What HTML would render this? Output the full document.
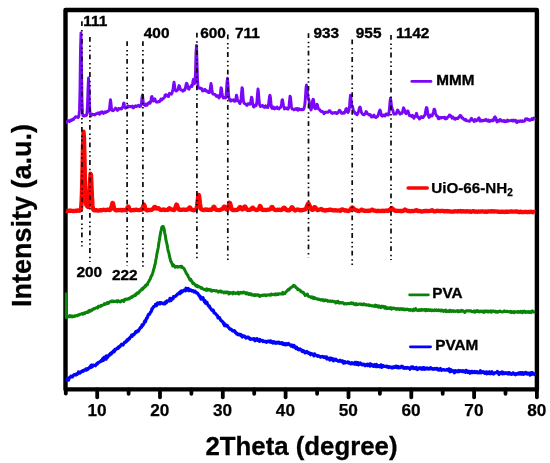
<!DOCTYPE html>
<html><head><meta charset="utf-8"><title>XRD</title>
<style>html,body{margin:0;padding:0;background:#fff;}svg{display:block;}</style></head>
<body>
<svg width="550" height="463" viewBox="0 0 550 463">
<rect width="550" height="463" fill="#ffffff"/>
<rect x="65.5" y="10.0" width="471.4" height="379.4" fill="none" stroke="#000" stroke-width="4.4" stroke-linejoin="round"/>
<line x1="65.8" y1="389.4" x2="65.8" y2="393.59999999999997" stroke="#000" stroke-width="3.8" stroke-linecap="round"/>
<line x1="97.2" y1="389.4" x2="97.2" y2="397.29999999999995" stroke="#000" stroke-width="3.8" stroke-linecap="round"/>
<line x1="128.6" y1="389.4" x2="128.6" y2="393.79999999999995" stroke="#000" stroke-width="3.8" stroke-linecap="round"/>
<line x1="160.0" y1="389.4" x2="160.0" y2="397.29999999999995" stroke="#000" stroke-width="3.8" stroke-linecap="round"/>
<line x1="191.4" y1="389.4" x2="191.4" y2="393.79999999999995" stroke="#000" stroke-width="3.8" stroke-linecap="round"/>
<line x1="222.8" y1="389.4" x2="222.8" y2="397.29999999999995" stroke="#000" stroke-width="3.8" stroke-linecap="round"/>
<line x1="254.2" y1="389.4" x2="254.2" y2="393.79999999999995" stroke="#000" stroke-width="3.8" stroke-linecap="round"/>
<line x1="285.6" y1="389.4" x2="285.6" y2="397.29999999999995" stroke="#000" stroke-width="3.8" stroke-linecap="round"/>
<line x1="317.1" y1="389.4" x2="317.1" y2="393.79999999999995" stroke="#000" stroke-width="3.8" stroke-linecap="round"/>
<line x1="348.5" y1="389.4" x2="348.5" y2="397.29999999999995" stroke="#000" stroke-width="3.8" stroke-linecap="round"/>
<line x1="379.9" y1="389.4" x2="379.9" y2="393.79999999999995" stroke="#000" stroke-width="3.8" stroke-linecap="round"/>
<line x1="411.3" y1="389.4" x2="411.3" y2="397.29999999999995" stroke="#000" stroke-width="3.8" stroke-linecap="round"/>
<line x1="442.7" y1="389.4" x2="442.7" y2="393.79999999999995" stroke="#000" stroke-width="3.8" stroke-linecap="round"/>
<line x1="474.1" y1="389.4" x2="474.1" y2="397.29999999999995" stroke="#000" stroke-width="3.8" stroke-linecap="round"/>
<line x1="505.5" y1="389.4" x2="505.5" y2="393.79999999999995" stroke="#000" stroke-width="3.8" stroke-linecap="round"/>
<line x1="536.9" y1="389.4" x2="536.9" y2="397.29999999999995" stroke="#000" stroke-width="3.8" stroke-linecap="round"/>
<path d="M66.0,379.5 66.5,379.8 67.0,378.9 67.5,379.1 68.0,378.5 68.5,380.2 69.0,378.8 69.5,377.5 70.0,377.2 70.5,377.2 71.0,376.2 71.5,376.5 72.0,376.2 72.5,376.9 73.0,375.8 73.5,375.3 74.0,374.7 74.5,374.5 75.0,374.9 75.5,374.5 76.0,375.1 76.5,373.8 77.0,374.5 77.5,373.8 78.0,373.4 78.5,371.9 79.0,372.1 79.5,373.1 80.0,373.2 80.5,372.3 81.0,372.3 81.5,371.4 82.0,371.1 82.5,370.7 83.0,371.4 83.5,370.8 84.0,370.2 84.5,369.9 85.0,370.2 85.5,369.8 86.0,368.9 86.5,370.1 87.0,369.0 87.5,368.6 88.0,369.2 88.5,368.7 89.0,367.8 89.5,367.9 90.0,366.7 90.5,366.7 91.0,365.5 91.5,367.3 92.0,365.2 92.5,366.5 93.0,365.4 93.5,365.0 94.0,365.2 94.5,365.3 95.0,365.2 95.5,365.7 96.0,364.6 96.5,364.6 97.0,363.4 97.5,363.8 98.0,363.1 98.5,362.4 99.0,362.3 99.5,362.0 100.0,361.8 100.5,361.6 101.0,360.7 101.5,360.3 102.0,360.8 102.5,359.0 103.0,359.3 103.5,360.3 104.0,357.4 104.5,358.3 105.0,358.8 105.5,357.0 106.0,359.2 106.5,355.8 107.0,357.8 107.5,357.5 108.0,356.7 108.5,355.6 109.0,355.5 109.5,354.4 110.0,355.0 110.5,353.4 111.0,353.5 111.5,353.8 112.0,352.2 112.5,352.2 113.0,352.1 113.5,350.8 114.0,351.9 114.5,351.0 115.0,349.4 115.5,349.9 116.0,349.1 116.5,348.7 117.0,348.7 117.5,347.9 118.0,348.5 118.5,347.0 119.0,347.6 119.5,346.6 120.0,346.7 120.5,345.5 121.0,345.1 121.5,344.3 122.0,344.9 122.5,344.7 123.0,345.0 123.5,344.1 124.0,343.1 124.5,342.4 125.0,342.3 125.5,341.7 126.0,342.1 126.5,341.4 127.0,339.9 127.5,339.6 128.0,340.3 128.5,339.2 129.0,338.4 129.5,338.8 130.0,337.4 130.5,337.0 131.0,336.5 131.5,335.2 132.0,336.5 132.5,334.8 133.0,334.8 133.5,334.2 134.0,334.7 134.5,333.8 135.0,333.5 135.5,332.0 136.0,332.6 136.5,331.3 137.0,331.8 137.5,331.3 138.0,330.4 138.5,331.1 139.0,329.6 139.5,329.1 140.0,328.2 140.5,327.4 141.0,327.5 141.5,327.0 142.0,325.0 142.5,325.8 143.0,324.9 143.5,324.4 144.0,323.3 144.5,321.5 145.0,320.7 145.5,321.7 146.0,320.0 146.5,318.2 147.0,318.4 147.5,317.2 148.0,315.5 148.5,314.4 149.0,314.0 149.5,314.2 150.0,313.2 150.5,312.2 151.0,311.7 151.5,311.0 152.0,308.5 152.5,308.7 153.0,307.7 153.5,306.8 154.0,306.6 154.5,306.3 155.0,305.7 155.5,304.4 156.0,304.5 156.5,305.7 157.0,303.6 157.5,303.0 158.0,304.0 158.5,304.0 159.0,303.8 159.5,302.7 160.0,303.9 160.5,302.8 161.0,302.6 161.5,302.9 162.0,303.2 162.5,303.7 163.0,303.7 163.5,303.3 164.0,303.9 164.5,303.3 165.0,303.7 165.5,302.0 166.0,301.6 166.5,302.7 167.0,301.0 167.5,301.3 168.0,301.1 168.5,300.5 169.0,300.2 169.5,301.0 170.0,298.3 170.5,300.0 171.0,300.5 171.5,298.7 172.0,298.4 172.5,298.5 173.0,298.8 173.5,296.6 174.0,297.0 174.5,296.5 175.0,296.6 175.5,296.0 176.0,296.0 176.5,295.0 177.0,294.9 177.5,294.1 178.0,293.7 178.5,293.7 179.0,293.3 179.5,292.4 180.0,293.7 180.5,292.3 181.0,291.2 181.5,292.4 182.0,291.0 182.5,291.5 183.0,290.9 183.5,290.8 184.0,290.5 184.5,289.8 185.0,289.9 185.5,290.9 186.0,288.2 186.5,289.5 187.0,289.7 187.5,288.7 188.0,288.5 188.5,290.6 189.0,289.1 189.5,290.7 190.0,289.9 190.5,289.8 191.0,290.2 191.5,290.5 192.0,291.0 192.5,290.7 193.0,290.7 193.5,291.0 194.0,292.0 194.5,292.0 195.0,291.2 195.5,291.8 196.0,292.7 196.5,292.5 197.0,293.0 197.5,293.0 198.0,293.9 198.5,294.8 199.0,295.7 199.5,295.6 200.0,297.4 200.5,296.6 201.0,299.1 201.5,298.3 202.0,298.5 202.5,298.4 203.0,297.6 203.5,299.7 204.0,300.4 204.5,302.0 205.0,300.6 205.5,303.2 206.0,302.5 206.5,303.7 207.0,302.3 207.5,304.5 208.0,304.8 208.5,306.0 209.0,306.2 209.5,306.1 210.0,307.9 210.5,308.4 211.0,308.9 211.5,309.7 212.0,310.4 212.5,310.3 213.0,310.0 213.5,310.6 214.0,312.8 214.5,313.0 215.0,313.2 215.5,313.5 216.0,314.3 216.5,314.9 217.0,315.3 217.5,315.6 218.0,317.9 218.5,317.4 219.0,317.5 219.5,317.6 220.0,318.6 220.5,320.0 221.0,320.6 221.5,320.6 222.0,321.4 222.5,321.8 223.0,321.9 223.5,323.9 224.0,323.9 224.5,325.6 225.0,324.0 225.5,324.8 226.0,325.8 226.5,325.6 227.0,325.3 227.5,326.0 228.0,327.0 228.5,327.6 229.0,327.7 229.5,328.8 230.0,329.2 230.5,329.1 231.0,329.3 231.5,329.5 232.0,330.3 232.5,330.8 233.0,330.6 233.5,331.2 234.0,331.1 234.5,330.7 235.0,331.3 235.5,332.7 236.0,332.8 236.5,333.9 237.0,333.3 237.5,334.1 238.0,334.7 238.5,334.8 239.0,334.1 239.5,334.6 240.0,335.0 240.5,334.5 241.0,335.6 241.5,336.1 242.0,335.3 242.5,337.0 243.0,335.8 243.5,336.0 244.0,336.2 244.5,336.1 245.0,337.0 245.5,336.9 246.0,338.1 246.5,337.6 247.0,337.7 247.5,337.5 248.0,336.9 248.5,337.9 249.0,337.6 249.5,338.8 250.0,338.3 250.5,339.4 251.0,338.9 251.5,339.1 252.0,338.8 252.5,338.9 253.0,339.2 253.5,339.5 254.0,338.6 254.5,339.4 255.0,340.8 255.5,339.2 256.0,339.2 256.5,339.0 257.0,338.6 257.5,340.3 258.0,339.7 258.5,339.9 259.0,340.9 259.5,341.4 260.0,339.5 260.5,340.7 261.0,340.6 261.5,340.5 262.0,340.7 262.5,340.5 263.0,341.5 263.5,341.1 264.0,341.0 264.5,341.6 265.0,341.5 265.5,341.4 266.0,341.4 266.5,342.3 267.0,341.7 267.5,341.4 268.0,341.1 268.5,341.5 269.0,341.1 269.5,341.9 270.0,342.1 270.5,340.8 271.0,342.1 271.5,342.5 272.0,342.3 272.5,341.7 273.0,343.1 273.5,342.0 274.0,341.7 274.5,341.9 275.0,342.6 275.5,343.3 276.0,343.4 276.5,342.9 277.0,342.2 277.5,342.5 278.0,342.5 278.5,343.0 279.0,342.1 279.5,343.2 280.0,343.6 280.5,343.2 281.0,343.6 281.5,342.8 282.0,342.6 282.5,343.1 283.0,344.3 283.5,344.3 284.0,343.4 284.5,344.5 285.0,343.7 285.5,344.8 286.0,344.3 286.5,343.8 287.0,344.6 287.5,343.8 288.0,343.7 288.5,343.5 289.0,344.7 289.5,344.7 290.0,344.8 290.5,344.8 291.0,346.1 291.5,345.2 292.0,345.2 292.5,346.6 293.0,346.9 293.5,346.5 294.0,345.5 294.5,346.5 295.0,347.5 295.5,347.4 296.0,348.6 296.5,347.1 297.0,348.6 297.5,348.1 298.0,349.5 298.5,348.9 299.0,349.8 299.5,349.1 300.0,348.8 300.5,349.3 301.0,349.8 301.5,349.8 302.0,351.3 302.5,351.6 303.0,351.2 303.5,350.7 304.0,351.5 304.5,351.4 305.0,352.9 305.5,352.4 306.0,352.6 306.5,352.3 307.0,351.5 307.5,352.4 308.0,352.3 308.5,353.4 309.0,353.4 309.5,353.0 310.0,353.4 310.5,354.8 311.0,353.4 311.5,353.6 312.0,354.2 312.5,354.0 313.0,354.3 313.5,355.0 314.0,355.9 314.5,353.9 315.0,355.1 315.5,355.2 316.0,355.3 316.5,355.4 317.0,355.4 317.5,356.3 318.0,355.6 318.5,355.9 319.0,356.1 319.5,356.3 320.0,356.3 320.5,357.1 321.0,356.6 321.5,356.8 322.0,356.8 322.5,356.4 323.0,356.6 323.5,356.6 324.0,357.4 324.5,357.0 325.0,356.9 325.5,357.8 326.0,358.1 326.5,356.8 327.0,359.0 327.5,358.1 328.0,358.1 328.5,359.0 329.0,358.5 329.5,358.2 330.0,360.0 330.5,358.1 331.0,358.8 331.5,359.5 332.0,358.5 332.5,359.2 333.0,359.6 333.5,360.9 334.0,359.1 334.5,359.7 335.0,360.2 335.5,360.0 336.0,359.3 336.5,360.4 337.0,360.4 337.5,360.7 338.0,361.2 338.5,361.3 339.0,361.0 339.5,361.1 340.0,360.3 340.5,361.0 341.0,361.3 341.5,361.0 342.0,361.4 342.5,361.0 343.0,362.5 343.5,363.0 344.0,361.5 344.5,362.1 345.0,361.8 345.5,362.8 346.0,362.4 346.5,362.3 347.0,362.2 347.5,362.5 348.0,361.9 348.5,363.0 349.0,362.3 349.5,363.2 350.0,363.0 350.5,363.7 351.0,363.1 351.5,363.8 352.0,362.7 352.5,363.6 353.0,363.2 353.5,363.5 354.0,363.5 354.5,364.0 355.0,362.3 355.5,363.8 356.0,362.7 356.5,364.4 357.0,362.5 357.5,363.2 358.0,362.8 358.5,364.9 359.0,363.2 359.5,364.1 360.0,363.7 360.5,363.0 361.0,363.9 361.5,364.6 362.0,364.1 362.5,364.9 363.0,364.1 363.5,364.4 364.0,364.2 364.5,364.7 365.0,365.7 365.5,364.8 366.0,364.8 366.5,364.3 367.0,364.3 367.5,365.7 368.0,364.2 368.5,364.4 369.0,364.9 369.5,364.8 370.0,366.2 370.5,363.7 371.0,365.4 371.5,365.6 372.0,364.6 372.5,364.9 373.0,365.6 373.5,366.4 374.0,364.9 374.5,364.6 375.0,366.1 375.5,366.5 376.0,365.5 376.5,364.4 377.0,366.6 377.5,365.7 378.0,366.5 378.5,365.9 379.0,365.7 379.5,365.7 380.0,366.9 380.5,367.0 381.0,364.9 381.5,365.6 382.0,367.3 382.5,366.1 383.0,365.5 383.5,366.4 384.0,366.4 384.5,366.4 385.0,366.2 385.5,366.3 386.0,366.3 386.5,366.8 387.0,366.1 387.5,366.5 388.0,366.6 388.5,367.5 389.0,367.0 389.5,366.7 390.0,367.1 390.5,367.1 391.0,367.5 391.5,367.2 392.0,368.0 392.5,367.8 393.0,367.0 393.5,366.8 394.0,367.6 394.5,367.4 395.0,367.0 395.5,366.2 396.0,366.1 396.5,367.4 397.0,367.7 397.5,367.7 398.0,366.5 398.5,367.9 399.0,367.0 399.5,367.6 400.0,367.7 400.5,367.0 401.0,367.1 401.5,366.3 402.0,367.0 402.5,366.5 403.0,367.9 403.5,367.7 404.0,368.3 404.5,368.0 405.0,367.4 405.5,368.0 406.0,367.6 406.5,368.3 407.0,368.1 407.5,367.4 408.0,368.0 408.5,368.1 409.0,367.9 409.5,368.6 410.0,369.2 410.5,367.9 411.0,368.0 411.5,366.9 412.0,368.2 412.5,368.0 413.0,367.0 413.5,368.5 414.0,368.7 414.5,367.9 415.0,368.1 415.5,367.8 416.0,368.8 416.5,367.5 417.0,368.2 417.5,369.6 418.0,368.5 418.5,368.7 419.0,368.4 419.5,367.8 420.0,368.5 420.5,368.8 421.0,367.9 421.5,368.7 422.0,369.3 422.5,369.2 423.0,367.6 423.5,368.0 424.0,367.7 424.5,369.3 425.0,369.0 425.5,369.1 426.0,368.2 426.5,368.0 427.0,368.8 427.5,368.8 428.0,368.2 428.5,368.9 429.0,369.2 429.5,368.9 430.0,368.2 430.5,367.6 431.0,368.7 431.5,369.0 432.0,368.7 432.5,368.6 433.0,368.5 433.5,369.4 434.0,368.9 434.5,369.0 435.0,368.4 435.5,368.6 436.0,369.1 436.5,368.5 437.0,368.4 437.5,368.9 438.0,369.9 438.5,369.3 439.0,370.1 439.5,369.2 440.0,369.2 440.5,368.5 441.0,369.1 441.5,370.3 442.0,369.7 442.5,370.0 443.0,370.0 443.5,369.6 444.0,369.5 444.5,369.8 445.0,370.1 445.5,370.0 446.0,370.1 446.5,370.0 447.0,369.5 447.5,369.8 448.0,369.5 448.5,370.7 449.0,368.9 449.5,370.1 450.0,371.8 450.5,370.2 451.0,369.8 451.5,370.5 452.0,371.4 452.5,370.6 453.0,371.1 453.5,370.9 454.0,370.6 454.5,372.8 455.0,371.0 455.5,370.7 456.0,370.8 456.5,371.4 457.0,371.5 457.5,371.8 458.0,371.4 458.5,370.5 459.0,371.7 459.5,371.2 460.0,371.3 460.5,370.6 461.0,371.2 461.5,371.1 462.0,371.5 462.5,370.7 463.0,371.6 463.5,371.7 464.0,371.0 464.5,371.3 465.0,371.2 465.5,372.3 466.0,370.3 466.5,371.6 467.0,370.8 467.5,371.6 468.0,372.4 468.5,371.5 469.0,372.0 469.5,371.5 470.0,373.2 470.5,372.6 471.0,372.7 471.5,371.3 472.0,371.4 472.5,372.7 473.0,372.0 473.5,372.0 474.0,372.3 474.5,371.4 475.0,372.6 475.5,372.2 476.0,372.5 476.5,371.8 477.0,372.5 477.5,371.8 478.0,372.8 478.5,373.0 479.0,372.8 479.5,372.6 480.0,372.7 480.5,370.7 481.0,372.9 481.5,372.2 482.0,372.5 482.5,372.2 483.0,371.6 483.5,372.1 484.0,372.9 484.5,373.3 485.0,372.1 485.5,372.0 486.0,373.4 486.5,372.0 487.0,373.8 487.5,372.6 488.0,372.1 488.5,373.2 489.0,373.6 489.5,371.8 490.0,373.6 490.5,372.5 491.0,373.6 491.5,372.5 492.0,371.8 492.5,373.0 493.0,373.3 493.5,374.0 494.0,373.8 494.5,373.2 495.0,372.7 495.5,372.5 496.0,372.7 496.5,372.4 497.0,372.7 497.5,371.4 498.0,373.0 498.5,372.9 499.0,374.5 499.5,373.4 500.0,372.7 500.5,373.3 501.0,372.3 501.5,372.7 502.0,371.9 502.5,373.9 503.0,373.4 503.5,372.4 504.0,373.1 504.5,373.7 505.0,373.4 505.5,373.4 506.0,372.7 506.5,372.8 507.0,373.3 507.5,373.8 508.0,372.7 508.5,372.6 509.0,374.0 509.5,372.7 510.0,373.9 510.5,373.5 511.0,373.9 511.5,374.4 512.0,373.8 512.5,373.8 513.0,372.8 513.5,373.0 514.0,373.8 514.5,374.3 515.0,374.2 515.5,374.8 516.0,373.6 516.5,373.6 517.0,374.1 517.5,373.5 518.0,373.4 518.5,372.9 519.0,374.1 519.5,372.9 520.0,373.8 520.5,372.7 521.0,374.2 521.5,372.9 522.0,374.1 522.5,372.6 523.0,373.3 523.5,374.3 524.0,373.1 524.5,373.7 525.0,373.3 525.5,372.3 526.0,373.8 526.5,373.9 527.0,373.0 527.5,374.0 528.0,373.2 528.5,373.1 529.0,373.7 529.5,373.3 530.0,375.1 530.5,372.8 531.0,374.2 531.5,374.4 532.0,372.6 532.5,372.8 533.0,374.1 533.5,373.5 534.0,374.1 534.5,374.5 535.0,373.6" fill="none" stroke="#0303fa" stroke-width="3.2" stroke-linejoin="round"/>
<path d="M66.3,292.5 L66.3,316.8 L66.3,317.5 66.8,316.5 67.3,317.0 67.8,316.8 68.3,316.3 68.8,316.7 69.3,316.5 69.8,315.6 70.3,316.8 70.8,316.7 71.3,316.2 71.8,315.8 72.3,316.9 72.8,316.3 73.3,316.6 73.8,316.6 74.3,315.8 74.8,316.3 75.3,315.7 75.8,315.7 76.3,315.6 76.8,315.4 77.3,315.8 77.8,315.2 78.3,314.9 78.8,314.7 79.3,314.9 79.8,314.2 80.3,314.2 80.8,314.2 81.3,313.8 81.8,313.8 82.3,313.4 82.8,314.3 83.3,313.9 83.8,313.3 84.3,312.9 84.8,313.7 85.3,312.7 85.8,312.4 86.3,312.4 86.8,312.1 87.3,312.4 87.8,311.6 88.3,312.3 88.8,310.8 89.3,311.3 89.8,310.3 90.3,311.3 90.8,310.2 91.3,310.1 91.8,310.3 92.3,310.2 92.8,309.0 93.3,309.1 93.8,308.5 94.3,308.9 94.8,308.6 95.3,308.3 95.8,307.9 96.3,307.8 96.8,307.5 97.3,307.8 97.8,308.0 98.3,306.3 98.8,306.8 99.3,306.5 99.8,306.6 100.3,305.8 100.8,305.9 101.3,305.3 101.8,305.8 102.3,305.3 102.8,305.0 103.3,305.0 103.8,304.5 104.3,303.7 104.8,304.4 105.3,304.1 105.8,303.6 106.3,303.9 106.8,303.8 107.3,302.6 107.8,302.6 108.3,303.4 108.8,303.2 109.3,302.1 109.8,301.7 110.3,301.8 110.8,301.6 111.3,301.0 111.8,301.6 112.3,300.9 112.8,300.9 113.3,301.8 113.8,301.1 114.3,301.3 114.8,301.5 115.3,301.6 115.8,301.1 116.3,301.2 116.8,300.9 117.3,301.9 117.8,301.5 118.3,300.7 118.8,301.2 119.3,301.5 119.8,301.4 120.3,302.0 120.8,301.7 121.3,300.8 121.8,300.9 122.3,300.3 122.8,300.7 123.3,300.6 123.8,301.5 124.3,300.2 124.8,299.2 125.3,299.6 125.8,299.8 126.3,299.0 126.8,299.0 127.3,299.1 127.8,299.2 128.3,298.8 128.8,298.3 129.3,298.9 129.8,298.1 130.3,297.9 130.8,297.2 131.3,297.1 131.8,297.4 132.3,296.2 132.8,296.5 133.3,296.5 133.8,295.7 134.3,295.7 134.8,294.8 135.3,295.5 135.8,295.1 136.3,294.4 136.8,293.2 137.3,293.0 137.8,293.4 138.3,293.3 138.8,292.2 139.3,292.2 139.8,290.9 140.3,290.7 140.8,290.3 141.3,290.1 141.8,288.9 142.3,289.5 142.8,289.2 143.3,287.8 143.8,287.3 144.3,287.6 144.8,286.7 145.3,285.5 145.8,286.2 146.3,285.2 146.8,284.3 147.3,284.7 147.8,283.1 148.3,282.1 148.8,281.7 149.3,280.4 149.8,279.6 150.3,278.9 150.8,277.2 151.3,276.0 151.8,275.7 152.3,274.1 152.8,272.7 153.3,270.9 153.8,269.0 154.3,267.5 154.8,264.9 155.3,263.6 155.8,260.0 156.3,257.7 156.8,254.4 157.3,252.1 157.8,249.7 158.3,247.2 158.8,243.3 159.3,240.6 159.8,237.4 160.3,234.5 160.8,231.7 161.3,229.9 161.8,227.3 162.3,226.7 162.8,226.4 163.3,226.7 163.8,228.0 164.3,230.0 164.8,233.8 165.3,235.3 165.8,239.2 166.3,241.4 166.8,243.5 167.3,245.6 167.8,249.0 168.3,251.6 168.8,252.7 169.3,255.1 169.8,257.8 170.3,259.3 170.8,261.5 171.3,261.7 171.8,263.5 172.3,263.9 172.8,266.1 173.3,265.3 173.8,265.0 174.3,266.2 174.8,266.4 175.3,267.3 175.8,266.4 176.3,266.5 176.8,266.8 177.3,267.2 177.8,266.5 178.3,267.0 178.8,266.8 179.3,266.5 179.8,266.7 180.3,266.7 180.8,266.4 181.3,267.3 181.8,266.3 182.3,267.6 182.8,267.8 183.3,267.9 183.8,268.2 184.3,269.0 184.8,270.1 185.3,271.2 185.8,272.0 186.3,273.4 186.8,273.7 187.3,275.0 187.8,275.1 188.3,276.9 188.8,277.6 189.3,278.2 189.8,279.7 190.3,280.2 190.8,279.3 191.3,281.0 191.8,280.9 192.3,282.4 192.8,283.5 193.3,282.8 193.8,283.5 194.3,283.9 194.8,284.6 195.3,285.2 195.8,285.8 196.3,285.1 196.8,286.4 197.3,285.6 197.8,286.4 198.3,287.0 198.8,287.1 199.3,286.6 199.8,287.0 200.3,287.3 200.8,287.8 201.3,288.5 201.8,287.7 202.3,288.7 202.8,288.9 203.3,289.0 203.8,289.1 204.3,289.7 204.8,289.3 205.3,289.6 205.8,289.6 206.3,290.3 206.8,288.8 207.3,290.3 207.8,289.8 208.3,289.9 208.8,289.7 209.3,289.4 209.8,290.1 210.3,290.1 210.8,290.6 211.3,289.9 211.8,291.2 212.3,290.7 212.8,290.6 213.3,290.5 213.8,290.5 214.3,290.4 214.8,290.7 215.3,291.0 215.8,291.0 216.3,290.6 216.8,291.1 217.3,290.9 217.8,291.4 218.3,292.2 218.8,291.8 219.3,291.5 219.8,291.0 220.3,291.1 220.8,291.1 221.3,292.2 221.8,291.6 222.3,292.0 222.8,291.8 223.3,292.2 223.8,292.8 224.3,292.0 224.8,292.2 225.3,292.1 225.8,292.8 226.3,292.1 226.8,292.1 227.3,292.1 227.8,292.1 228.3,293.0 228.8,293.9 229.3,292.5 229.8,293.4 230.3,293.1 230.8,292.6 231.3,292.9 231.8,293.0 232.3,292.8 232.8,293.9 233.3,292.3 233.8,293.3 234.3,293.3 234.8,292.9 235.3,293.2 235.8,293.6 236.3,293.2 236.8,293.3 237.3,293.4 237.8,292.2 238.3,293.7 238.8,294.0 239.3,293.4 239.8,293.4 240.3,292.3 240.8,292.8 241.3,292.5 241.8,292.5 242.3,293.1 242.8,292.4 243.3,292.7 243.8,292.0 244.3,292.8 244.8,293.0 245.3,292.8 245.8,292.8 246.3,294.0 246.8,292.8 247.3,292.9 247.8,293.1 248.3,294.0 248.8,294.5 249.3,293.9 249.8,293.6 250.3,293.8 250.8,294.6 251.3,293.9 251.8,295.0 252.3,295.2 252.8,294.7 253.3,295.0 253.8,295.2 254.3,295.6 254.8,294.5 255.3,295.5 255.8,294.9 256.3,294.8 256.8,295.2 257.3,295.2 257.8,294.9 258.3,294.7 258.8,295.1 259.3,296.1 259.8,296.4 260.3,295.8 260.8,296.0 261.3,295.3 261.8,295.4 262.3,295.6 262.8,295.0 263.3,295.0 263.8,295.4 264.3,295.2 264.8,294.8 265.3,295.4 265.8,295.1 266.3,295.6 266.8,295.1 267.3,295.0 267.8,295.1 268.3,295.0 268.8,294.7 269.3,294.8 269.8,295.2 270.3,295.1 270.8,295.3 271.3,294.0 271.8,294.5 272.3,294.5 272.8,294.7 273.3,294.4 273.8,294.3 274.3,294.8 274.8,294.5 275.3,293.9 275.8,294.9 276.3,294.7 276.8,294.0 277.3,294.5 277.8,293.8 278.3,294.5 278.8,293.9 279.3,293.7 279.8,293.8 280.3,293.7 280.8,294.0 281.3,294.0 281.8,294.0 282.3,293.7 282.8,292.4 283.3,294.0 283.8,293.0 284.3,293.6 284.8,293.6 285.3,292.8 285.8,292.0 286.3,291.6 286.8,291.1 287.3,290.5 287.8,290.0 288.3,289.4 288.8,289.9 289.3,288.9 289.8,288.9 290.3,288.0 290.8,287.7 291.3,287.2 291.8,287.1 292.3,286.9 292.8,286.3 293.3,285.6 293.8,285.3 294.3,286.3 294.8,285.8 295.3,286.3 295.8,287.5 296.3,287.9 296.8,288.1 297.3,288.2 297.8,289.8 298.3,289.4 298.8,289.9 299.3,290.0 299.8,289.9 300.3,290.3 300.8,291.5 301.3,291.9 301.8,292.1 302.3,292.0 302.8,292.2 303.3,293.0 303.8,292.8 304.3,294.1 304.8,294.5 305.3,295.5 305.8,295.0 306.3,294.7 306.8,294.8 307.3,294.0 307.8,295.5 308.3,295.9 308.8,296.6 309.3,296.6 309.8,296.8 310.3,296.8 310.8,297.1 311.3,297.6 311.8,296.8 312.3,297.2 312.8,297.0 313.3,298.4 313.8,298.4 314.3,298.4 314.8,297.7 315.3,298.5 315.8,298.4 316.3,298.7 316.8,298.7 317.3,299.1 317.8,298.8 318.3,299.5 318.8,299.3 319.3,299.2 319.8,299.4 320.3,299.4 320.8,300.1 321.3,299.7 321.8,300.1 322.3,299.9 322.8,299.6 323.3,300.7 323.8,300.0 324.3,300.8 324.8,300.8 325.3,299.9 325.8,300.3 326.3,300.5 326.8,300.4 327.3,300.3 327.8,301.2 328.3,300.8 328.8,301.2 329.3,300.9 329.8,301.2 330.3,300.8 330.8,301.2 331.3,301.5 331.8,301.3 332.3,301.2 332.8,301.0 333.3,301.6 333.8,301.7 334.3,301.6 334.8,301.5 335.3,302.1 335.8,303.0 336.3,301.9 336.8,302.3 337.3,302.4 337.8,301.2 338.3,302.5 338.8,302.2 339.3,303.2 339.8,302.6 340.3,302.4 340.8,302.7 341.3,302.9 341.8,302.7 342.3,302.9 342.8,302.5 343.3,303.0 343.8,303.5 344.3,304.0 344.8,303.5 345.3,303.4 345.8,303.8 346.3,303.8 346.8,304.1 347.3,303.9 347.8,303.4 348.3,303.6 348.8,303.6 349.3,303.7 349.8,303.7 350.3,303.3 350.8,302.8 351.3,303.4 351.8,302.9 352.3,303.8 352.8,303.8 353.3,303.2 353.8,304.2 354.3,304.3 354.8,304.0 355.3,304.7 355.8,304.8 356.3,303.6 356.8,304.6 357.3,304.4 357.8,304.4 358.3,304.6 358.8,304.0 359.3,304.1 359.8,304.0 360.3,304.1 360.8,304.4 361.3,303.9 361.8,304.1 362.3,304.8 362.8,304.5 363.3,304.8 363.8,303.9 364.3,304.4 364.8,304.5 365.3,304.8 365.8,304.5 366.3,305.2 366.8,304.8 367.3,304.9 367.8,305.0 368.3,305.3 368.8,304.9 369.3,305.6 369.8,305.4 370.3,305.3 370.8,305.4 371.3,305.6 371.8,305.9 372.3,305.9 372.8,305.8 373.3,306.0 373.8,305.8 374.3,306.3 374.8,305.8 375.3,305.0 375.8,306.5 376.3,306.1 376.8,305.6 377.3,306.1 377.8,305.9 378.3,307.3 378.8,306.7 379.3,305.9 379.8,306.9 380.3,306.6 380.8,307.6 381.3,306.5 381.8,306.0 382.3,307.1 382.8,307.0 383.3,307.1 383.8,306.4 384.3,307.6 384.8,308.2 385.3,306.7 385.8,308.1 386.3,307.4 386.8,308.7 387.3,308.0 387.8,307.8 388.3,308.4 388.8,308.3 389.3,307.9 389.8,308.5 390.3,308.0 390.8,307.5 391.3,309.2 391.8,308.2 392.3,308.2 392.8,308.6 393.3,307.9 393.8,308.0 394.3,308.4 394.8,308.4 395.3,308.7 395.8,309.2 396.3,308.6 396.8,309.1 397.3,309.2 397.8,308.5 398.3,309.1 398.8,308.6 399.3,309.5 399.8,309.3 400.3,309.1 400.8,308.6 401.3,309.2 401.8,308.9 402.3,309.5 402.8,309.2 403.3,308.9 403.8,309.7 404.3,309.6 404.8,309.1 405.3,309.8 405.8,309.3 406.3,309.3 406.8,309.5 407.3,309.1 407.8,309.3 408.3,309.4 408.8,310.2 409.3,310.2 409.8,309.5 410.3,310.3 410.8,309.6 411.3,309.8 411.8,310.0 412.3,309.8 412.8,310.7 413.3,309.8 413.8,309.2 414.3,310.3 414.8,309.6 415.3,309.6 415.8,308.5 416.3,310.2 416.8,310.2 417.3,310.2 417.8,310.2 418.3,310.6 418.8,309.8 419.3,310.3 419.8,309.6 420.3,309.8 420.8,310.4 421.3,310.1 421.8,309.4 422.3,310.1 422.8,309.9 423.3,309.7 423.8,310.2 424.3,309.9 424.8,309.4 425.3,309.6 425.8,310.8 426.3,309.5 426.8,310.2 427.3,310.4 427.8,310.4 428.3,309.6 428.8,310.0 429.3,310.2 429.8,310.5 430.3,309.9 430.8,309.7 431.3,310.7 431.8,310.7 432.3,310.4 432.8,310.0 433.3,310.5 433.8,310.4 434.3,310.7 434.8,309.8 435.3,310.4 435.8,310.3 436.3,309.9 436.8,310.5 437.3,310.4 437.8,310.3 438.3,310.6 438.8,309.9 439.3,310.5 439.8,310.7 440.3,310.6 440.8,311.0 441.3,310.0 441.8,309.9 442.3,310.7 442.8,310.8 443.3,311.5 443.8,310.9 444.3,310.3 444.8,311.0 445.3,310.3 445.8,310.1 446.3,311.8 446.8,310.8 447.3,311.0 447.8,311.0 448.3,311.5 448.8,310.9 449.3,311.3 449.8,310.4 450.3,310.2 450.8,311.4 451.3,311.4 451.8,311.1 452.3,310.9 452.8,310.9 453.3,310.6 453.8,311.5 454.3,311.2 454.8,311.1 455.3,311.1 455.8,311.4 456.3,311.2 456.8,311.3 457.3,310.5 457.8,311.2 458.3,311.9 458.8,310.8 459.3,311.0 459.8,311.4 460.3,311.4 460.8,311.3 461.3,310.4 461.8,311.3 462.3,310.6 462.8,310.7 463.3,311.3 463.8,311.0 464.3,311.5 464.8,312.4 465.3,311.5 465.8,311.5 466.3,310.8 466.8,310.9 467.3,310.7 467.8,311.0 468.3,310.7 468.8,310.9 469.3,311.1 469.8,310.8 470.3,310.7 470.8,310.7 471.3,311.5 471.8,311.3 472.3,311.7 472.8,311.7 473.3,311.2 473.8,311.6 474.3,310.7 474.8,312.3 475.3,311.8 475.8,311.3 476.3,310.9 476.8,311.5 477.3,310.6 477.8,311.0 478.3,311.7 478.8,311.4 479.3,311.2 479.8,311.8 480.3,311.0 480.8,311.5 481.3,311.2 481.8,311.1 482.3,311.6 482.8,311.0 483.3,312.3 483.8,311.2 484.3,312.3 484.8,311.0 485.3,311.7 485.8,311.0 486.3,310.9 486.8,311.6 487.3,311.8 487.8,311.0 488.3,312.0 488.8,311.2 489.3,311.6 489.8,311.7 490.3,311.8 490.8,310.8 491.3,312.3 491.8,311.8 492.3,311.4 492.8,311.2 493.3,310.9 493.8,311.0 494.3,311.8 494.8,311.5 495.3,311.2 495.8,311.4 496.3,312.3 496.8,311.5 497.3,311.4 497.8,312.2 498.3,311.9 498.8,311.7 499.3,311.4 499.8,311.0 500.3,311.2 500.8,311.5 501.3,311.6 501.8,311.9 502.3,312.0 502.8,311.8 503.3,311.8 503.8,311.3 504.3,310.8 504.8,311.5 505.3,311.3 505.8,311.5 506.3,311.6 506.8,311.2 507.3,311.3 507.8,311.7 508.3,311.8 508.8,311.5 509.3,312.0 509.8,311.7 510.3,311.4 510.8,311.8 511.3,312.6 511.8,311.5 512.3,312.3 512.8,312.4 513.3,312.4 513.8,311.5 514.3,312.7 514.8,311.9 515.3,311.7 515.8,311.7 516.3,312.1 516.8,311.9 517.3,311.8 517.8,312.4 518.3,311.5 518.8,311.4 519.3,312.2 519.8,312.2 520.3,312.3 520.8,311.4 521.3,312.3 521.8,312.1 522.3,312.6 522.8,311.4 523.3,312.0 523.8,311.8 524.3,311.2 524.8,311.6 525.3,312.4 525.8,311.7 526.3,311.6 526.8,312.3 527.3,312.3 527.8,312.3 528.3,311.6 528.8,311.9 529.3,312.4 529.8,311.7 530.3,311.6 530.8,312.3 531.3,312.6 531.8,311.5 532.3,310.9 532.8,311.4 533.3,311.5 533.8,311.9 534.3,312.2 534.8,311.9" fill="none" stroke="#0a830a" stroke-width="3.0" stroke-linejoin="round"/>
<path d="M66.0,210.9 66.5,211.1 67.0,211.0 67.5,211.0 68.0,210.9 68.5,210.9 69.0,210.7 69.5,210.7 70.0,210.8 70.5,210.7 71.0,210.7 71.5,210.8 72.0,210.8 72.5,211.0 73.0,211.0 73.5,211.0 74.0,211.1 74.5,210.9 75.0,210.9 75.5,210.6 76.0,210.9 76.5,211.0 77.0,210.8 77.5,210.4 78.0,210.3 78.5,210.6 79.0,210.8 79.5,210.7 80.0,210.6 80.5,210.2 81.0,208.8 81.5,203.8 82.0,191.2 82.5,170.0 83.0,145.3 83.5,131.7 84.0,137.6 84.5,159.0 85.0,182.0 85.5,197.1 86.0,203.8 86.5,205.5 87.0,206.0 87.5,206.4 88.0,206.9 88.5,206.2 89.0,202.7 89.5,194.1 90.0,182.2 90.5,173.6 91.0,174.9 91.5,185.2 92.0,197.2 92.5,205.2 93.0,208.8 93.5,209.9 94.0,210.3 94.5,210.3 95.0,210.4 95.5,210.2 96.0,210.3 96.5,210.2 97.0,210.3 97.5,210.5 98.0,210.5 98.5,210.7 99.0,210.6 99.5,210.4 100.0,210.2 100.5,210.1 101.0,210.2 101.5,210.3 102.0,210.2 102.5,210.0 103.0,209.9 103.5,209.7 104.0,209.9 104.5,209.9 105.0,210.1 105.5,210.0 106.0,210.1 106.5,210.0 107.0,209.8 107.5,209.7 108.0,209.6 108.5,209.7 109.0,210.0 109.5,210.1 110.0,210.2 110.5,209.6 111.0,208.8 111.5,206.9 112.0,204.6 112.5,202.9 113.0,203.3 113.5,205.4 114.0,207.7 114.5,209.1 115.0,209.8 115.5,210.0 116.0,210.3 116.5,210.2 117.0,210.4 117.5,210.1 118.0,210.1 118.5,210.0 119.0,210.2 119.5,210.1 120.0,210.0 120.5,209.8 121.0,209.9 121.5,210.3 122.0,210.5 122.5,210.4 123.0,210.0 123.5,209.8 124.0,210.1 124.5,210.1 125.0,210.0 125.5,210.0 126.0,210.1 126.5,209.8 127.0,208.8 127.5,207.5 128.0,206.8 128.5,206.7 129.0,207.8 129.5,208.8 130.0,209.7 130.5,210.2 131.0,210.5 131.5,210.3 132.0,210.2 132.5,210.2 133.0,210.2 133.5,210.0 134.0,209.9 134.5,209.8 135.0,210.0 135.5,209.8 136.0,209.8 136.5,209.6 137.0,209.9 137.5,210.0 138.0,210.1 138.5,210.1 139.0,210.2 139.5,209.9 140.0,209.9 140.5,209.7 141.0,209.9 141.5,209.9 142.0,209.5 142.5,208.5 143.0,207.0 143.5,205.4 144.0,204.6 144.5,205.5 145.0,207.5 145.5,209.0 146.0,209.7 146.5,210.1 147.0,210.4 147.5,210.4 148.0,210.1 148.5,209.9 149.0,209.9 149.5,209.8 150.0,210.0 150.5,210.0 151.0,210.0 151.5,209.7 152.0,209.7 152.5,209.4 153.0,209.0 153.5,208.3 154.0,207.4 154.5,206.8 155.0,206.8 155.5,207.5 156.0,208.2 156.5,208.6 157.0,208.5 157.5,208.1 158.0,208.1 158.5,208.2 159.0,208.8 159.5,209.2 160.0,209.5 160.5,209.8 161.0,209.8 161.5,210.0 162.0,209.9 162.5,209.7 163.0,209.5 163.5,209.4 164.0,209.6 164.5,209.8 165.0,210.1 165.5,210.0 166.0,209.8 166.5,209.9 167.0,210.0 167.5,209.9 168.0,209.4 168.5,209.0 169.0,208.5 169.5,208.2 170.0,208.4 170.5,209.0 171.0,209.5 171.5,209.6 172.0,209.7 172.5,209.7 173.0,209.8 173.5,209.8 174.0,210.1 174.5,209.7 175.0,208.9 175.5,207.2 176.0,205.5 176.5,204.6 177.0,205.0 177.5,206.5 178.0,207.9 178.5,208.9 179.0,209.5 179.5,209.8 180.0,209.8 180.5,209.7 181.0,209.7 181.5,209.9 182.0,209.9 182.5,209.8 183.0,209.6 183.5,209.5 184.0,209.7 184.5,209.7 185.0,209.8 185.5,209.6 186.0,209.8 186.5,209.7 187.0,209.7 187.5,209.7 188.0,209.5 188.5,208.8 189.0,208.1 189.5,207.4 190.0,207.5 190.5,208.1 191.0,209.0 191.5,209.7 192.0,209.8 192.5,210.0 193.0,210.0 193.5,210.2 194.0,210.3 194.5,210.1 195.0,209.9 195.5,209.8 196.0,209.3 196.5,208.4 197.0,206.1 197.5,202.4 198.0,197.8 198.5,194.8 199.0,195.2 199.5,198.9 200.0,203.6 200.5,207.0 201.0,208.8 201.5,209.4 202.0,209.7 202.5,209.7 203.0,209.9 203.5,210.1 204.0,210.1 204.5,209.8 205.0,209.5 205.5,209.4 206.0,209.4 206.5,209.7 207.0,209.9 207.5,209.8 208.0,209.7 208.5,209.9 209.0,210.0 209.5,209.8 210.0,209.7 210.5,209.7 211.0,209.8 211.5,209.8 212.0,209.4 212.5,208.6 213.0,207.7 213.5,207.0 214.0,206.7 214.5,207.3 215.0,208.3 215.5,209.2 216.0,209.7 216.5,209.8 217.0,209.8 217.5,209.9 218.0,210.0 218.5,210.1 219.0,210.0 219.5,210.1 220.0,210.1 220.5,209.7 221.0,209.5 221.5,209.3 222.0,209.3 222.5,208.9 223.0,208.3 223.5,207.4 224.0,206.6 224.5,206.7 225.0,207.5 225.5,208.5 226.0,209.0 226.5,209.5 227.0,209.6 227.5,209.3 228.0,208.1 228.5,206.2 229.0,204.0 229.5,202.7 230.0,202.9 230.5,204.6 231.0,206.7 231.5,208.8 232.0,209.6 232.5,210.1 233.0,209.9 233.5,210.0 234.0,209.9 234.5,210.0 235.0,210.2 235.5,210.2 236.0,210.0 236.5,209.8 237.0,209.8 237.5,209.8 238.0,209.6 238.5,209.0 239.0,208.1 239.5,207.3 240.0,207.0 240.5,207.2 241.0,207.8 241.5,208.5 242.0,209.3 242.5,209.4 243.0,209.3 243.5,208.4 244.0,207.5 244.5,206.6 245.0,206.5 245.5,207.0 246.0,208.0 246.5,209.0 247.0,209.5 247.5,209.8 248.0,210.0 248.5,209.9 249.0,209.9 249.5,209.6 250.0,209.8 250.5,209.7 251.0,209.4 251.5,208.9 252.0,208.0 252.5,207.7 253.0,207.7 253.5,208.6 254.0,209.1 254.5,209.3 255.0,209.4 255.5,209.5 256.0,210.0 256.5,210.1 257.0,210.1 257.5,209.7 258.0,209.6 258.5,209.2 259.0,208.4 259.5,207.1 260.0,206.0 260.5,206.2 261.0,207.4 261.5,208.8 262.0,209.7 262.5,209.9 263.0,209.9 263.5,210.0 264.0,209.8 264.5,209.9 265.0,209.8 265.5,210.0 266.0,210.1 266.5,210.1 267.0,209.9 267.5,209.7 268.0,209.7 268.5,209.7 269.0,209.7 269.5,209.5 270.0,209.4 270.5,209.0 271.0,208.3 271.5,207.3 272.0,206.9 272.5,207.1 273.0,208.1 273.5,208.7 274.0,209.3 274.5,209.6 275.0,209.9 275.5,210.0 276.0,210.1 276.5,210.1 277.0,210.0 277.5,209.6 278.0,209.7 278.5,209.9 279.0,209.9 279.5,209.7 280.0,209.7 280.5,210.0 281.0,210.0 281.5,209.9 282.0,209.7 282.5,209.2 283.0,208.5 283.5,207.8 284.0,207.7 284.5,207.8 285.0,208.3 285.5,209.1 286.0,209.9 286.5,209.9 287.0,210.2 287.5,209.9 288.0,210.3 288.5,210.1 289.0,210.3 289.5,210.2 290.0,209.7 290.5,209.3 291.0,208.5 291.5,207.5 292.0,207.2 292.5,207.4 293.0,208.6 293.5,209.0 294.0,209.7 294.5,210.0 295.0,210.5 295.5,210.3 296.0,210.0 296.5,209.8 297.0,209.6 297.5,209.5 298.0,209.6 298.5,209.7 299.0,209.9 299.5,209.9 300.0,210.2 300.5,210.4 301.0,210.4 301.5,210.3 302.0,210.1 302.5,210.0 303.0,210.0 303.5,209.9 304.0,209.9 304.5,209.5 305.0,209.5 305.5,209.2 306.0,208.6 306.5,207.5 307.0,206.0 307.5,204.7 308.0,203.6 308.5,203.5 309.0,204.3 309.5,205.4 310.0,206.4 310.5,207.5 311.0,208.5 311.5,209.4 312.0,209.8 312.5,209.9 313.0,209.7 313.5,209.0 314.0,208.1 314.5,207.2 315.0,207.1 315.5,207.6 316.0,208.6 316.5,209.3 317.0,209.8 317.5,210.1 318.0,210.1 318.5,210.0 319.0,209.7 319.5,209.6 320.0,209.5 320.5,209.3 321.0,209.0 321.5,209.2 322.0,209.3 322.5,210.0 323.0,210.0 323.5,210.0 324.0,210.2 324.5,210.5 325.0,210.7 325.5,210.4 326.0,210.2 326.5,210.3 327.0,210.1 327.5,210.1 328.0,210.0 328.5,210.0 329.0,210.0 329.5,209.7 330.0,209.8 330.5,209.7 331.0,210.0 331.5,209.8 332.0,209.9 332.5,210.1 333.0,210.3 333.5,210.5 334.0,210.4 334.5,210.4 335.0,210.3 335.5,210.2 336.0,210.3 336.5,210.4 337.0,210.6 337.5,210.6 338.0,210.4 338.5,210.3 339.0,210.4 339.5,210.6 340.0,210.8 340.5,210.7 341.0,210.3 341.5,209.7 342.0,209.4 342.5,209.4 343.0,209.6 343.5,209.9 344.0,210.2 344.5,210.5 345.0,210.5 345.5,210.6 346.0,210.3 346.5,210.6 347.0,210.7 347.5,211.0 348.0,210.9 348.5,211.0 349.0,210.6 349.5,210.4 350.0,210.2 350.5,209.5 351.0,208.8 351.5,208.0 352.0,207.7 352.5,207.5 353.0,207.8 353.5,208.3 354.0,209.0 354.5,209.4 355.0,209.9 355.5,210.1 356.0,210.3 356.5,210.5 357.0,210.7 357.5,210.5 358.0,210.8 358.5,210.9 359.0,211.1 359.5,210.8 360.0,210.6 360.5,210.4 361.0,210.2 361.5,209.7 362.0,209.6 362.5,210.0 363.0,210.3 363.5,210.6 364.0,210.5 364.5,210.8 365.0,210.9 365.5,210.7 366.0,210.8 366.5,210.8 367.0,210.9 367.5,210.8 368.0,210.7 368.5,210.6 369.0,210.9 369.5,210.7 370.0,210.8 370.5,210.3 371.0,210.3 371.5,210.0 372.0,209.7 372.5,209.7 373.0,209.9 373.5,210.3 374.0,210.7 374.5,210.7 375.0,210.7 375.5,210.7 376.0,210.9 376.5,211.2 377.0,211.0 377.5,210.9 378.0,210.7 378.5,210.9 379.0,211.1 379.5,211.1 380.0,211.0 380.5,210.8 381.0,210.8 381.5,211.0 382.0,211.0 382.5,211.0 383.0,210.7 383.5,210.8 384.0,211.0 384.5,211.0 385.0,210.9 385.5,210.8 386.0,210.6 386.5,210.5 387.0,210.6 387.5,210.7 388.0,210.9 388.5,210.7 389.0,210.6 389.5,210.1 390.0,209.6 390.5,208.9 391.0,208.4 391.5,208.1 392.0,208.2 392.5,208.6 393.0,209.2 393.5,209.8 394.0,210.1 394.5,210.4 395.0,210.5 395.5,210.8 396.0,210.7 396.5,210.7 397.0,210.7 397.5,210.9 398.0,210.9 398.5,210.9 399.0,210.8 399.5,210.9 400.0,211.0 400.5,211.0 401.0,211.0 401.5,211.0 402.0,211.0 402.5,211.0 403.0,210.8 403.5,210.8 404.0,210.3 404.5,209.9 405.0,209.5 405.5,209.8 406.0,210.1 406.5,210.4 407.0,210.7 407.5,210.8 408.0,211.0 408.5,211.0 409.0,211.0 409.5,211.0 410.0,211.2 410.5,211.3 411.0,211.2 411.5,211.0 412.0,210.9 412.5,211.0 413.0,211.1 413.5,211.1 414.0,211.0 414.5,210.8 415.0,210.7 415.5,210.5 416.0,210.1 416.5,210.2 417.0,210.3 417.5,210.9 418.0,211.1 418.5,211.2 419.0,210.9 419.5,211.0 420.0,211.1 420.5,211.2 421.0,211.5 421.5,211.4 422.0,211.6 422.5,211.4 423.0,211.4 423.5,211.1 424.0,211.0 424.5,211.0 425.0,211.1 425.5,210.9 426.0,211.0 426.5,211.0 427.0,211.2 427.5,211.0 428.0,211.1 428.5,211.2 429.0,211.0 429.5,210.9 430.0,210.9 430.5,210.9 431.0,210.7 431.5,210.4 432.0,210.2 432.5,210.3 433.0,210.8 433.5,211.0 434.0,211.3 434.5,211.3 435.0,211.4 435.5,211.4 436.0,211.1 436.5,210.9 437.0,210.7 437.5,210.8 438.0,211.0 438.5,211.1 439.0,211.2 439.5,210.9 440.0,211.1 440.5,210.9 441.0,211.1 441.5,211.0 442.0,211.0 442.5,210.9 443.0,210.9 443.5,211.0 444.0,211.2 444.5,211.4 445.0,211.3 445.5,211.1 446.0,211.0 446.5,211.1 447.0,211.0 447.5,211.3 448.0,211.2 448.5,211.3 449.0,211.2 449.5,211.4 450.0,211.5 450.5,211.6 451.0,211.5 451.5,211.6 452.0,211.6 452.5,211.6 453.0,211.6 453.5,211.5 454.0,211.5 454.5,211.3 455.0,211.2 455.5,211.3 456.0,211.3 456.5,211.4 457.0,211.3 457.5,211.5 458.0,211.2 458.5,211.1 459.0,211.2 459.5,211.3 460.0,211.4 460.5,211.0 461.0,211.2 461.5,211.1 462.0,211.5 462.5,211.2 463.0,211.4 463.5,211.2 464.0,211.5 464.5,211.4 465.0,211.3 465.5,211.5 466.0,211.5 466.5,211.5 467.0,211.2 467.5,211.2 468.0,211.4 468.5,211.6 469.0,211.7 469.5,211.4 470.0,211.3 470.5,211.5 471.0,211.8 471.5,211.8 472.0,211.6 472.5,211.5 473.0,211.2 473.5,211.1 474.0,211.3 474.5,211.3 475.0,211.8 475.5,211.7 476.0,211.7 476.5,211.5 477.0,211.7 477.5,211.8 478.0,211.6 478.5,211.4 479.0,211.6 479.5,211.6 480.0,211.5 480.5,211.5 481.0,211.6 481.5,211.5 482.0,211.4 482.5,211.3 483.0,211.4 483.5,211.5 484.0,211.7 484.5,211.8 485.0,211.6 485.5,211.5 486.0,211.5 486.5,211.8 487.0,211.8 487.5,211.7 488.0,211.5 488.5,211.5 489.0,211.4 489.5,211.3 490.0,211.3 490.5,211.4 491.0,211.6 491.5,211.3 492.0,211.2 492.5,211.1 493.0,211.3 493.5,211.5 494.0,211.3 494.5,211.5 495.0,211.3 495.5,211.4 496.0,211.4 496.5,211.6 497.0,211.5 497.5,211.6 498.0,211.6 498.5,211.8 499.0,211.6 499.5,211.9 500.0,211.8 500.5,211.9 501.0,211.6 501.5,211.8 502.0,211.6 502.5,211.7 503.0,211.7 503.5,211.9 504.0,211.9 504.5,212.0 505.0,212.0 505.5,211.9 506.0,211.7 506.5,211.5 507.0,211.8 507.5,211.8 508.0,211.9 508.5,211.7 509.0,211.6 509.5,211.7 510.0,211.6 510.5,211.7 511.0,211.4 511.5,211.5 512.0,211.4 512.5,211.6 513.0,211.7 513.5,211.6 514.0,211.7 514.5,211.6 515.0,211.7 515.5,211.5 516.0,211.4 516.5,211.5 517.0,211.5 517.5,211.7 518.0,211.8 518.5,212.0 519.0,212.2 519.5,212.0 520.0,211.8 520.5,211.7 521.0,211.8 521.5,212.1 522.0,212.0 522.5,212.1 523.0,212.0 523.5,212.1 524.0,212.0 524.5,212.0 525.0,211.9 525.5,211.9 526.0,212.0 526.5,211.9 527.0,212.1 527.5,212.0 528.0,212.1 528.5,211.9 529.0,211.9 529.5,212.0 530.0,212.0 530.5,211.9 531.0,211.6 531.5,211.6 532.0,212.0 532.5,212.1 533.0,212.3 533.5,211.9 534.0,211.9 534.5,211.9 535.0,212.1" fill="none" stroke="#fb0505" stroke-width="4.3" stroke-linejoin="round"/>
<path d="M66.0,122.3 66.5,122.3 67.0,122.0 67.5,121.3 68.0,121.0 68.5,120.7 69.0,120.8 69.5,121.6 70.0,121.2 70.5,120.1 71.0,120.3 71.5,120.5 72.0,120.1 72.5,119.3 73.0,119.0 73.5,119.5 74.0,118.7 74.5,117.9 75.0,117.5 75.5,116.9 76.0,116.7 76.5,117.0 77.0,117.0 77.5,117.1 78.0,117.5 78.5,117.1 79.0,115.1 79.5,109.9 80.0,89.2 80.5,49.3 81.0,32.9 81.5,64.5 82.0,100.0 82.5,112.9 83.0,115.9 83.5,116.0 84.0,115.5 84.5,116.1 85.0,115.8 85.5,115.3 86.0,115.5 86.5,115.3 87.0,112.9 87.5,104.8 88.0,89.2 88.5,78.0 89.0,88.1 89.5,105.5 90.0,112.7 90.5,115.2 91.0,115.9 91.5,114.4 92.0,114.0 92.5,114.7 93.0,114.5 93.5,114.5 94.0,114.5 94.5,114.4 95.0,115.0 95.5,114.3 96.0,113.7 96.5,113.7 97.0,113.6 97.5,113.2 98.0,112.8 98.5,113.2 99.0,113.8 99.5,114.3 100.0,113.2 100.5,112.2 101.0,113.0 101.5,112.3 102.0,111.7 102.5,112.5 103.0,113.1 103.5,113.4 104.0,112.5 104.5,112.0 105.0,111.9 105.5,112.6 106.0,112.4 106.5,111.5 107.0,111.7 107.5,111.7 108.0,111.3 108.5,110.7 109.0,110.5 109.5,108.9 110.0,103.7 110.5,99.7 111.0,103.4 111.5,108.9 112.0,110.5 112.5,110.7 113.0,110.8 113.5,110.5 114.0,109.8 114.5,109.5 115.0,109.2 115.5,108.1 116.0,108.6 116.5,109.0 117.0,109.1 117.5,110.4 118.0,109.8 118.5,108.4 119.0,108.7 119.5,109.1 120.0,108.9 120.5,108.4 121.0,108.8 121.5,109.0 122.0,108.1 122.5,107.5 123.0,106.6 123.5,103.4 124.0,103.0 124.5,105.6 125.0,107.5 125.5,108.3 126.0,107.8 126.5,107.4 127.0,107.2 127.5,106.5 128.0,105.9 128.5,106.9 129.0,106.4 129.5,106.5 130.0,106.6 130.5,106.5 131.0,106.9 131.5,106.8 132.0,107.2 132.5,106.1 133.0,106.6 133.5,107.9 134.0,107.2 134.5,106.4 135.0,106.3 135.5,105.9 136.0,106.5 136.5,106.6 137.0,106.0 137.5,105.9 138.0,105.6 138.5,105.3 139.0,106.1 139.5,106.5 140.0,106.3 140.5,106.3 141.0,105.2 141.5,102.8 142.0,97.4 142.5,95.0 143.0,99.8 143.5,103.9 144.0,104.5 144.5,104.3 145.0,105.5 145.5,105.5 146.0,104.1 146.5,104.4 147.0,105.3 147.5,104.2 148.0,103.3 148.5,103.4 149.0,102.4 149.5,102.8 150.0,103.3 150.5,102.3 151.0,99.8 151.5,96.9 152.0,96.5 152.5,99.0 153.0,101.0 153.5,100.6 154.0,100.1 154.5,98.9 155.0,99.0 155.5,101.1 156.0,101.7 156.5,101.7 157.0,102.2 157.5,102.1 158.0,101.6 158.5,101.5 159.0,101.8 159.5,101.7 160.0,101.0 160.5,100.0 161.0,98.9 161.5,99.2 162.0,99.9 162.5,99.0 163.0,98.4 163.5,98.4 164.0,98.0 164.5,97.2 165.0,95.4 165.5,94.9 166.0,94.7 166.5,94.9 167.0,96.0 167.5,96.0 168.0,96.4 168.5,96.5 169.0,94.9 169.5,93.3 170.0,93.9 170.5,94.0 171.0,93.5 171.5,94.1 172.0,93.1 172.5,91.1 173.0,89.4 173.5,85.5 174.0,82.1 174.5,84.8 175.0,89.1 175.5,90.4 176.0,91.0 176.5,91.1 177.0,90.2 177.5,90.2 178.0,89.5 178.5,87.2 179.0,85.6 179.5,86.1 180.0,88.1 180.5,89.2 181.0,90.1 181.5,90.1 182.0,90.1 182.5,90.6 183.0,91.2 183.5,90.4 184.0,89.7 184.5,90.2 185.0,89.4 185.5,87.4 186.0,84.7 186.5,83.3 187.0,83.6 187.5,85.7 188.0,87.7 188.5,89.0 189.0,89.2 189.5,87.6 190.0,87.2 190.5,87.1 191.0,85.7 191.5,85.7 192.0,86.5 192.5,84.5 193.0,80.9 193.5,79.3 194.0,81.3 194.5,83.7 195.0,82.4 195.5,72.0 196.0,52.4 196.5,45.4 197.0,61.5 197.5,79.3 198.0,86.0 198.5,87.6 199.0,88.0 199.5,88.4 200.0,88.3 200.5,88.0 201.0,88.8 201.5,88.5 202.0,89.5 202.5,90.9 203.0,90.2 203.5,90.1 204.0,90.7 204.5,89.4 205.0,89.5 205.5,90.9 206.0,91.0 206.5,90.7 207.0,90.8 207.5,91.4 208.0,92.2 208.5,92.6 209.0,92.2 209.5,92.4 210.0,90.4 210.5,86.4 211.0,83.5 211.5,85.7 212.0,90.6 212.5,93.1 213.0,94.1 213.5,94.2 214.0,94.2 214.5,94.3 215.0,94.4 215.5,94.8 216.0,95.9 216.5,96.4 217.0,96.0 217.5,95.8 218.0,95.8 218.5,97.1 219.0,97.9 219.5,97.3 220.0,96.1 220.5,92.4 221.0,87.8 221.5,88.2 222.0,92.5 222.5,96.1 223.0,97.6 223.5,98.0 224.0,97.5 224.5,97.4 225.0,97.8 225.5,98.1 226.0,96.3 226.5,90.1 227.0,81.9 227.5,78.3 228.0,84.5 228.5,93.8 229.0,98.4 229.5,99.1 230.0,99.6 230.5,101.1 231.0,101.0 231.5,100.1 232.0,99.9 232.5,100.3 233.0,100.3 233.5,99.8 234.0,101.1 234.5,101.3 235.0,101.1 235.5,101.1 236.0,97.9 236.5,95.1 237.0,97.2 237.5,100.3 238.0,101.1 238.5,101.2 239.0,101.7 239.5,103.1 240.0,103.5 240.5,102.1 241.0,98.9 241.5,93.1 242.0,87.6 242.5,88.7 243.0,95.6 243.5,101.3 244.0,103.1 244.5,103.4 245.0,103.8 245.5,103.9 246.0,104.2 246.5,105.2 247.0,105.4 247.5,104.7 248.0,103.8 248.5,104.0 249.0,104.0 249.5,103.3 250.0,104.2 250.5,103.6 251.0,100.3 251.5,97.1 252.0,98.2 252.5,101.8 253.0,104.7 253.5,107.0 254.0,107.0 254.5,105.8 255.0,105.2 255.5,105.5 256.0,105.8 256.5,104.2 257.0,100.6 257.5,93.6 258.0,88.9 258.5,92.4 259.0,99.5 259.5,104.2 260.0,105.9 260.5,106.5 261.0,106.2 261.5,106.1 262.0,105.8 262.5,105.3 263.0,106.3 263.5,107.0 264.0,106.8 264.5,107.4 265.0,106.5 265.5,105.8 266.0,106.7 266.5,107.3 267.0,107.1 267.5,107.4 268.0,107.5 268.5,105.1 269.0,100.7 269.5,96.3 270.0,95.2 270.5,97.8 271.0,103.5 271.5,107.5 272.0,108.4 272.5,108.1 273.0,107.4 273.5,107.1 274.0,108.5 274.5,108.9 275.0,108.5 275.5,108.4 276.0,107.8 276.5,107.3 277.0,107.1 277.5,108.4 278.0,108.0 278.5,108.1 279.0,108.9 279.5,107.9 280.0,107.6 280.5,107.6 281.0,106.6 281.5,103.7 282.0,100.1 282.5,99.8 283.0,102.7 283.5,105.5 284.0,107.5 284.5,108.9 285.0,108.4 285.5,108.0 286.0,108.4 286.5,108.0 287.0,108.7 287.5,109.0 288.0,109.2 288.5,108.5 289.0,105.7 289.5,101.1 290.0,96.1 290.5,97.1 291.0,102.5 291.5,107.0 292.0,109.0 292.5,108.7 293.0,108.8 293.5,109.3 294.0,109.9 294.5,109.5 295.0,109.1 295.5,108.8 296.0,109.1 296.5,109.5 297.0,108.4 297.5,108.9 298.0,110.3 298.5,109.7 299.0,108.7 299.5,109.1 300.0,109.1 300.5,109.6 301.0,109.8 301.5,109.2 302.0,109.8 302.5,109.8 303.0,109.7 303.5,109.5 304.0,108.2 304.5,106.1 305.0,103.0 305.5,96.1 306.0,87.8 306.5,85.0 307.0,87.9 307.5,92.8 308.0,96.9 308.5,98.6 309.0,100.2 309.5,103.7 310.0,106.5 310.5,108.6 311.0,109.9 311.5,108.5 312.0,105.2 312.5,101.2 313.0,99.3 313.5,99.6 314.0,103.5 314.5,107.4 315.0,108.8 315.5,108.9 316.0,107.9 316.5,106.3 317.0,104.1 317.5,105.0 318.0,107.5 318.5,109.0 319.0,109.5 319.5,109.4 320.0,110.0 320.5,111.1 321.0,111.4 321.5,111.6 322.0,111.4 322.5,111.5 323.0,112.1 323.5,112.8 324.0,113.7 324.5,113.2 325.0,112.1 325.5,112.2 326.0,112.3 326.5,112.1 327.0,112.4 327.5,112.2 328.0,112.2 328.5,111.9 329.0,110.8 329.5,110.6 330.0,110.8 330.5,111.5 331.0,112.4 331.5,112.9 332.0,113.2 332.5,113.5 333.0,112.8 333.5,112.8 334.0,112.8 334.5,112.6 335.0,113.0 335.5,112.4 336.0,112.6 336.5,113.6 337.0,113.5 337.5,113.2 338.0,112.8 338.5,111.8 339.0,110.8 339.5,110.2 340.0,110.7 340.5,111.4 341.0,112.4 341.5,113.4 342.0,113.3 342.5,113.0 343.0,113.2 343.5,112.6 344.0,112.4 344.5,112.9 345.0,111.9 345.5,110.4 346.0,108.8 346.5,108.6 347.0,110.4 347.5,112.0 348.0,112.5 348.5,111.6 349.0,110.3 349.5,106.8 350.0,99.7 350.5,95.1 351.0,97.5 351.5,103.8 352.0,107.1 352.5,106.4 353.0,108.5 353.5,111.0 354.0,111.4 354.5,112.1 355.0,113.4 355.5,113.6 356.0,113.2 356.5,114.2 357.0,114.8 357.5,114.0 358.0,113.0 358.5,111.6 359.0,109.5 359.5,107.7 360.0,107.0 360.5,108.1 361.0,111.0 361.5,112.7 362.0,113.1 362.5,114.1 363.0,114.5 363.5,114.7 364.0,114.7 364.5,114.1 365.0,114.0 365.5,113.2 366.0,111.6 366.5,111.8 367.0,113.0 367.5,113.9 368.0,114.1 368.5,114.3 369.0,115.1 369.5,115.1 370.0,114.5 370.5,114.9 371.0,116.4 371.5,116.9 372.0,116.3 372.5,116.2 373.0,116.8 373.5,115.5 374.0,115.1 374.5,116.5 375.0,116.9 375.5,117.4 376.0,117.5 376.5,116.9 377.0,116.5 377.5,116.5 378.0,115.7 378.5,114.0 379.0,112.2 379.5,110.8 380.0,110.0 380.5,111.1 381.0,113.7 381.5,115.7 382.0,116.1 382.5,116.2 383.0,115.7 383.5,114.9 384.0,115.2 384.5,115.5 385.0,116.0 385.5,114.9 386.0,113.9 386.5,114.7 387.0,114.8 387.5,113.9 388.0,114.5 388.5,115.0 389.0,112.9 389.5,107.9 390.0,101.6 390.5,98.3 391.0,101.3 391.5,106.3 392.0,108.3 392.5,109.6 393.0,110.9 393.5,112.8 394.0,114.2 394.5,113.8 395.0,113.7 395.5,113.9 396.0,114.0 396.5,113.2 397.0,111.1 397.5,110.1 398.0,110.3 398.5,111.5 399.0,112.3 399.5,112.9 400.0,114.1 400.5,114.0 401.0,112.9 401.5,112.9 402.0,113.3 402.5,112.1 403.0,109.7 403.5,107.8 404.0,108.4 404.5,109.9 405.0,111.3 405.5,113.0 406.0,113.7 406.5,112.9 407.0,111.8 407.5,110.9 408.0,111.1 408.5,112.5 409.0,114.5 409.5,115.7 410.0,115.2 410.5,115.3 411.0,115.8 411.5,116.5 412.0,116.0 412.5,115.3 413.0,116.0 413.5,117.7 414.0,118.3 414.5,117.0 415.0,116.4 415.5,116.3 416.0,114.7 416.5,113.3 417.0,114.9 417.5,116.6 418.0,117.3 418.5,117.3 419.0,118.0 419.5,119.0 420.0,118.4 420.5,118.0 421.0,116.7 421.5,116.6 422.0,117.4 422.5,117.2 423.0,117.5 423.5,117.1 424.0,115.8 424.5,115.6 425.0,114.6 425.5,111.7 426.0,108.9 426.5,107.6 427.0,108.0 427.5,111.4 428.0,115.0 428.5,116.2 429.0,117.4 429.5,117.0 430.0,115.3 430.5,114.9 431.0,115.2 431.5,115.4 432.0,115.9 432.5,114.7 433.0,113.5 433.5,111.5 434.0,109.2 434.5,109.2 435.0,110.5 435.5,113.1 436.0,115.0 436.5,115.9 437.0,115.7 437.5,116.2 438.0,117.8 438.5,118.8 439.0,118.6 439.5,118.1 440.0,117.3 440.5,117.7 441.0,118.0 441.5,117.4 442.0,117.4 442.5,117.5 443.0,117.5 443.5,117.5 444.0,117.2 444.5,117.2 445.0,118.7 445.5,118.9 446.0,117.8 446.5,118.0 447.0,118.4 447.5,117.5 448.0,116.6 448.5,116.7 449.0,116.0 449.5,114.9 450.0,115.4 450.5,115.7 451.0,116.0 451.5,117.0 452.0,118.2 452.5,117.9 453.0,117.0 453.5,117.7 454.0,118.4 454.5,118.9 455.0,119.3 455.5,118.3 456.0,118.1 456.5,118.7 457.0,118.2 457.5,118.6 458.0,118.6 458.5,117.3 459.0,117.1 459.5,116.6 460.0,115.5 460.5,115.5 461.0,115.8 461.5,117.0 462.0,118.0 462.5,117.7 463.0,118.3 463.5,119.0 464.0,119.1 464.5,119.8 465.0,120.2 465.5,119.2 466.0,119.9 466.5,120.8 467.0,120.7 467.5,120.8 468.0,120.9 468.5,120.9 469.0,121.2 469.5,121.3 470.0,120.7 470.5,120.3 471.0,118.9 471.5,118.4 472.0,119.1 472.5,119.8 473.0,119.9 473.5,120.8 474.0,121.6 474.5,120.4 475.0,119.6 475.5,120.1 476.0,120.8 476.5,120.6 477.0,120.4 477.5,119.9 478.0,119.2 478.5,118.2 479.0,117.7 479.5,119.0 480.0,121.2 480.5,121.1 481.0,120.2 481.5,120.4 482.0,121.0 482.5,120.8 483.0,120.3 483.5,120.8 484.0,120.5 484.5,120.1 485.0,120.4 485.5,119.8 486.0,119.4 486.5,120.2 487.0,120.9 487.5,121.0 488.0,120.1 488.5,120.0 489.0,121.2 489.5,121.6 490.0,121.2 490.5,120.5 491.0,120.8 491.5,120.9 492.0,120.1 492.5,119.9 493.0,120.7 493.5,120.4 494.0,118.9 494.5,117.3 495.0,116.8 495.5,117.5 496.0,118.4 496.5,120.9 497.0,121.9 497.5,120.7 498.0,120.3 498.5,120.7 499.0,121.2 499.5,120.9 500.0,119.5 500.5,119.6 501.0,120.4 501.5,120.6 502.0,121.2 502.5,121.3 503.0,121.0 503.5,120.4 504.0,120.4 504.5,121.9 505.0,121.9 505.5,121.0 506.0,120.8 506.5,121.5 507.0,121.0 507.5,120.1 508.0,120.8 508.5,121.2 509.0,120.8 509.5,120.6 510.0,120.6 510.5,120.6 511.0,120.6 511.5,120.1 512.0,120.1 512.5,121.1 513.0,120.6 513.5,120.1 514.0,120.9 514.5,120.5 515.0,120.3 515.5,120.3 516.0,120.8 516.5,122.3 517.0,122.7 517.5,121.6 518.0,121.0 518.5,121.2 519.0,120.9 519.5,121.6 520.0,121.0 520.5,120.7 521.0,121.3 521.5,121.5 522.0,121.6 522.5,120.7 523.0,120.8 523.5,121.4 524.0,121.3 524.5,121.1 525.0,120.7 525.5,119.0 526.0,118.9 526.5,119.3 527.0,118.7 527.5,118.8 528.0,119.8 528.5,120.1 529.0,119.5 529.5,119.7 530.0,120.4 530.5,119.8 531.0,119.7 531.5,119.8 532.0,118.6 532.5,119.3 533.0,119.5 533.5,118.2 534.0,117.9 534.5,118.7 535.0,119.3" fill="none" stroke="#7a08f8" stroke-width="2.9" stroke-linejoin="round"/>
<line x1="81.9" y1="21.3" x2="81.9" y2="246.6" stroke="#0a0a0a" stroke-width="1.7" stroke-dasharray="4.8 3.8 1.5 2.7 1.5 3.3"/>
<line x1="89.9" y1="36.9" x2="89.9" y2="262" stroke="#0a0a0a" stroke-width="1.7" stroke-dasharray="4.8 3.8 1.5 2.7 1.5 3.3"/>
<line x1="127.1" y1="41.3" x2="127.1" y2="265.8" stroke="#0a0a0a" stroke-width="1.7" stroke-dasharray="4.8 3.8 1.5 2.7 1.5 3.3"/>
<line x1="142.9" y1="41.3" x2="142.9" y2="266.8" stroke="#0a0a0a" stroke-width="1.7" stroke-dasharray="4.8 3.8 1.5 2.7 1.5 3.3"/>
<line x1="196.9" y1="32.7" x2="196.9" y2="258.6" stroke="#0a0a0a" stroke-width="1.7" stroke-dasharray="4.8 3.8 1.5 2.7 1.5 3.3"/>
<line x1="227.8" y1="34.5" x2="227.8" y2="260" stroke="#0a0a0a" stroke-width="1.7" stroke-dasharray="4.8 3.8 1.5 2.7 1.5 3.3"/>
<line x1="308.5" y1="33.2" x2="308.5" y2="257.4" stroke="#0a0a0a" stroke-width="1.7" stroke-dasharray="4.8 3.8 1.5 2.7 1.5 3.3"/>
<line x1="352.2" y1="39.5" x2="352.2" y2="265" stroke="#0a0a0a" stroke-width="1.7" stroke-dasharray="4.8 3.8 1.5 2.7 1.5 3.3"/>
<line x1="391.0" y1="35" x2="391.0" y2="260" stroke="#0a0a0a" stroke-width="1.7" stroke-dasharray="4.8 3.8 1.5 2.7 1.5 3.3"/>
<text transform="translate(97.0,415.7) scale(1,1)" font-size="17.2" stroke="#000" stroke-width="0.25" text-anchor="middle" font-family="Liberation Sans, Arial, sans-serif" font-weight="bold">10</text>
<text transform="translate(159.8,415.7) scale(1,1)" font-size="17.2" stroke="#000" stroke-width="0.25" text-anchor="middle" font-family="Liberation Sans, Arial, sans-serif" font-weight="bold">20</text>
<text transform="translate(222.6,415.7) scale(1,1)" font-size="17.2" stroke="#000" stroke-width="0.25" text-anchor="middle" font-family="Liberation Sans, Arial, sans-serif" font-weight="bold">30</text>
<text transform="translate(285.4,415.7) scale(1,1)" font-size="17.2" stroke="#000" stroke-width="0.25" text-anchor="middle" font-family="Liberation Sans, Arial, sans-serif" font-weight="bold">40</text>
<text transform="translate(348.3,415.7) scale(1,1)" font-size="17.2" stroke="#000" stroke-width="0.25" text-anchor="middle" font-family="Liberation Sans, Arial, sans-serif" font-weight="bold">50</text>
<text transform="translate(411.1,415.7) scale(1,1)" font-size="17.2" stroke="#000" stroke-width="0.25" text-anchor="middle" font-family="Liberation Sans, Arial, sans-serif" font-weight="bold">60</text>
<text transform="translate(473.9,415.7) scale(1,1)" font-size="17.2" stroke="#000" stroke-width="0.25" text-anchor="middle" font-family="Liberation Sans, Arial, sans-serif" font-weight="bold">70</text>
<text transform="translate(536.7,415.7) scale(1,1)" font-size="17.2" stroke="#000" stroke-width="0.25" text-anchor="middle" font-family="Liberation Sans, Arial, sans-serif" font-weight="bold">80</text>
<text x="301.5" y="454.5" font-size="25.8" stroke="#000" stroke-width="0.3" text-anchor="middle" font-family="Liberation Sans, Arial, sans-serif" font-weight="bold">2Theta (degree)</text>
<text transform="translate(30.8,215.5) rotate(-90)" font-size="27" stroke="#000" stroke-width="0.3" text-anchor="middle" font-family="Liberation Sans, Arial, sans-serif" font-weight="bold">Intensity (a.u.)</text>
<text transform="translate(83.3,26) scale(1,1.0)" font-size="15.4" stroke="#000" stroke-width="0.35" font-family="Liberation Sans, Arial, sans-serif" font-weight="bold">111</text>
<text transform="translate(143.8,38.2) scale(1,1.0)" font-size="15.4" stroke="#000" stroke-width="0.35" font-family="Liberation Sans, Arial, sans-serif" font-weight="bold">400</text>
<text transform="translate(200.2,38.2) scale(1,1.0)" font-size="15.4" stroke="#000" stroke-width="0.35" font-family="Liberation Sans, Arial, sans-serif" font-weight="bold">600</text>
<text transform="translate(234.9,38.2) scale(1,1.0)" font-size="15.4" stroke="#000" stroke-width="0.35" font-family="Liberation Sans, Arial, sans-serif" font-weight="bold">711</text>
<text transform="translate(313.5,38.2) scale(1,1.0)" font-size="15.4" stroke="#000" stroke-width="0.35" font-family="Liberation Sans, Arial, sans-serif" font-weight="bold">933</text>
<text transform="translate(355.8,38.4) scale(1,1.0)" font-size="15.4" stroke="#000" stroke-width="0.35" font-family="Liberation Sans, Arial, sans-serif" font-weight="bold">955</text>
<text transform="translate(396,38.4) scale(1,1.0)" font-size="15.4" stroke="#000" stroke-width="0.35" font-family="Liberation Sans, Arial, sans-serif" font-weight="bold">1142</text>
<text transform="translate(76.5,276.9) scale(1,1.0)" font-size="15.4" stroke="#000" stroke-width="0.35" font-family="Liberation Sans, Arial, sans-serif" font-weight="bold">200</text>
<text transform="translate(111.9,280.4) scale(1,1.0)" font-size="15.4" stroke="#000" stroke-width="0.35" font-family="Liberation Sans, Arial, sans-serif" font-weight="bold">222</text>
<line x1="411.8" y1="81.4" x2="431" y2="81.4" stroke="#7a08f8" stroke-width="2.7" stroke-linecap="round"/>
<text transform="translate(436.3,84.8) scale(1,0.97)" font-size="15.3" stroke="#000" stroke-width="0.35" font-family="Liberation Sans, Arial, sans-serif" font-weight="bold">MMM</text>
<line x1="408.2" y1="188" x2="427.2" y2="188" stroke="#fb0505" stroke-width="3.6" stroke-linecap="round"/>
<text x="431.2" y="192.5" font-size="15.2" stroke="#000" stroke-width="0.25" font-family="Liberation Sans, Arial, sans-serif" font-weight="bold">UiO-66-NH<tspan font-size="10" dy="3">2</tspan></text>
<line x1="409.6" y1="294.8" x2="428.4" y2="294.8" stroke="#0a830a" stroke-width="2.7" stroke-linecap="round"/>
<text transform="translate(432.3,297.8) scale(1,0.97)" font-size="15.3" stroke="#000" stroke-width="0.35" font-family="Liberation Sans, Arial, sans-serif" font-weight="bold">PVA</text>
<line x1="410.4" y1="346.8" x2="430.6" y2="346.8" stroke="#0303fa" stroke-width="2.8" stroke-linecap="round"/>
<text transform="translate(435.2,349.6) scale(1,0.97)" font-size="15.3" stroke="#000" stroke-width="0.35" font-family="Liberation Sans, Arial, sans-serif" font-weight="bold">PVAM</text>
</svg>
</body></html>
